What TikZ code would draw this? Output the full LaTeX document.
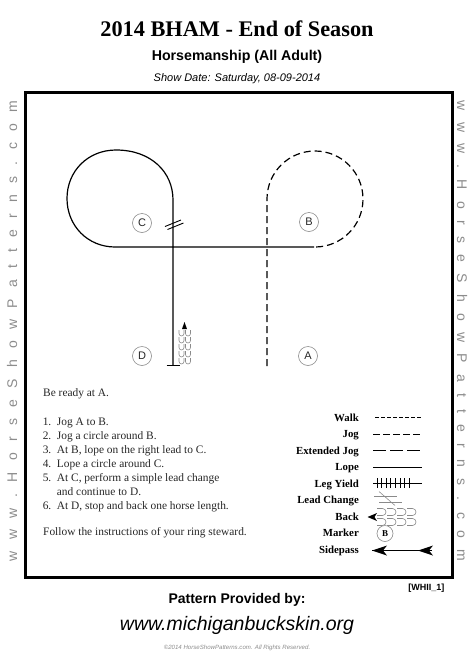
\documentclass[tikz,border=0pt]{standalone}
\usepackage{fontspec}
\setmainfont{Liberation Serif}
\setsansfont{Liberation Sans}
\usetikzlibrary{arrows.meta}
\definecolor{sidegray}{HTML}{8C8C8C}
\definecolor{markgray}{HTML}{8A8A8A}
\begin{document}
\begin{tikzpicture}[x=1pt,y=-1pt,
  marker/.style={circle, draw=markgray, line width=0.6pt, minimum size=19pt, inner sep=0pt,
     font=\sffamily\fontsize{11}{11}\selectfont, text=black!85},
  lopeline/.style={line width=1.2pt},
  jogline/.style={line width=1.2pt, dash pattern=on 7pt off 4pt},
  instr/.style={anchor=base west, inner sep=0pt, font=\fontsize{11.4}{13}\selectfont, text=black!85},
  num/.style={anchor=base east, inner sep=0pt, font=\fontsize{11.4}{13}\selectfont, text=black!85},
  leglabel/.style={anchor=base east, inner sep=0pt, font=\bfseries\fontsize{10.8}{12}\selectfont},
  sidetext/.style={text=sidegray, inner sep=0pt, font=\sffamily\fontsize{14}{14}\selectfont\addfontfeature{LetterSpace=81}},
  ushape/.style={draw=markgray, line width=0.6pt}
]
\useasboundingbox (0,0) rectangle (474,670);

% titles
\node[font=\bfseries\fontsize{22.3}{24}\selectfont] (title) at (237,29) {2014 BHAM - End of Season};
\node[font=\sffamily\bfseries\fontsize{14.2}{16}\selectfont] (sub) at (237,57) {Horsemanship (All Adult)};
\node[font=\sffamily\itshape\fontsize{11}{13}\selectfont] (date) at (237,79) {Show Date: Saturday, 08-09-2014};

% arena box
\draw[line width=3pt] (25,92.5) rectangle (452,577);

% side texts
\node[sidetext, rotate=90] (sideL) at (12,331) {www.HorseShowPatterns.com};
\node[sidetext, rotate=-90] (sideR) at (462,331) {www.HorseShowPatterns.com};

% markers
\node[marker] (C) at (142,223) {C};
\node[marker] (B) at (309,222) {B};
\node[marker] (D) at (142,356) {D};
\node[marker] (A) at (308,356) {A};

% lope path
\coordinate (hEnd) at (314,247);
\coordinate (lopeEnd) at (173,365);
\draw[lopeline] (hEnd) -- (115,247)
   .. controls (88,247) and (67,226) .. (67,198.5)
   .. controls (67,171) and (88,150) .. (116,150)
   .. controls (151,150) and (173,172) .. (173,200) -- (lopeEnd);
\coordinate (footL) at (166.5,365.5);
\coordinate (footR) at (180,365.5);
\draw[lopeline] (footL) -- (footR);

% jog path
\coordinate (jogStart) at (267,366);
\draw[jogline] (jogStart) -- (267,199) arc[start angle=180, end angle=450, radius=48];

% lead change marks
\coordinate (lc1a) at (165,226.5); \coordinate (lc1b) at (181,220);
\coordinate (lc2a) at (167.5,229.5); \coordinate (lc2b) at (183.5,223);
\draw[line width=0.9pt] (lc1a) -- (lc1b);
\draw[line width=0.9pt] (lc2a) -- (lc2b);

% back symbol near D
\fill (184.5,322) -- (187,329) -- (182,329) -- cycle;
\foreach \yy in {333,340,347,354,361}{
  \foreach \xx in {181.5,188}{
    \draw[ushape] (\xx-2.5,\yy-3) -- (\xx-2.5,\yy+0.5) arc[start angle=180, end angle=0, radius=2.5] -- (\xx+2.5,\yy-3);
  }
}

% instructions
\node[instr] (ready) at (43,396.5) {Be ready at A.};
\node[num] (n1) at (51.5,425) {1.};
\node[instr] (t1) at (56.7,425) {Jog A to B.};
\node[num] (n2) at (51.5,439) {2.};
\node[instr] (t2) at (56.7,439) {Jog a circle around B.};
\node[num] (n3) at (51.5,453) {3.};
\node[instr] (t3) at (56.7,453) {At B, lope on the right lead to C.};
\node[num] (n4) at (51.5,467) {4.};
\node[instr] (t4) at (56.7,467) {Lope a circle around C.};
\node[num] (n5) at (51.5,481) {5.};
\node[instr] (t5) at (56.7,481) {At C, perform a simple lead change};
\node[instr] (t5b) at (56.7,495) {and continue to D.};
\node[num] (n6) at (51.5,509) {6.};
\node[instr] (t6) at (56.7,509) {At D, stop and back one horse length.};
\node[instr] (follow) at (43,535.5) {Follow the instructions of your ring steward.};

% legend labels
\node[leglabel] (lw) at (359,421) {Walk};
\node[leglabel] (lj) at (359,437.5) {Jog};
\node[leglabel] (lej) at (359,454) {Extended Jog};
\node[leglabel] (ll) at (359,470.5) {Lope};
\node[leglabel] (lly) at (359,487) {Leg Yield};
\node[leglabel] (llc) at (359,503.5) {Lead Change};
\node[leglabel] (lb) at (359,520) {Back};
\node[leglabel] (lm) at (359,536.5) {Marker};
\node[leglabel] (ls) at (359,553.5) {Sidepass};

% legend symbols
\draw[line width=1pt, dash pattern=on 3.5pt off 2.5pt] (375,417.5) -- (422,417.5);
\draw[line width=1pt, dash pattern=on 7pt off 3pt] (373,434) -- (422,434);
\draw[line width=1pt, dash pattern=on 13pt off 4pt] (373,450.5) -- (422,450.5);
\draw[line width=1pt] (373,467) -- (422,467);
\draw[line width=1pt] (373,483) -- (422,483);
\foreach \xx in {377,381.6,386.2,390.8,395.4,400,404.6,409.2}{
  \draw[line width=0.8pt] (\xx,478) -- (\xx,488);
}
% lead change
\draw[draw=markgray, line width=0.6pt] (374,496) -- (397,496);
\draw[draw=markgray, line width=0.6pt] (379,502.5) -- (402,502.5);
\draw[draw=markgray, line width=0.6pt] (379,491.5) -- (395,505.5);
% back
\fill (367.5,517) -- (377,513) -- (374.5,517) -- (377,521) -- cycle;
\foreach \yy in {512,522}{
  \foreach \xx in {377,387,397,407}{
    \draw[ushape] (\xx,\yy-3.5) -- (\xx+5.5,\yy-3.5) arc[start angle=270, end angle=450, radius=3.5] -- (\xx,\yy+3.5);
  }
}
% marker
\node[circle, draw=markgray, line width=0.6pt, minimum size=16pt, inner sep=0pt,
      font=\bfseries\fontsize{9}{9}\selectfont] (mB) at (385,533.5) {B};
% sidepass
\coordinate (spL) at (372,550.5);
\coordinate (spR) at (432,550.5);
\draw[line width=0.6pt] (spL) -- (spR);
\fill (372,550.5) -- (387,545.5) -- (383,550.5) -- (387,555.5) -- cycle;
\fill (418,550.5) -- (433,545.5) -- (429,550.5) -- (433,555.5) -- cycle;

% footer
\node[anchor=east, font=\sffamily\bfseries\fontsize{9}{10}\selectfont] (code) at (448,588) {[WHII\_1]};
\node[font=\sffamily\bfseries\fontsize{14}{16}\selectfont] (prov) at (237,600) {Pattern Provided by:};
\node[font=\sffamily\itshape\fontsize{19.5}{22}\selectfont] (url) at (237,625) {www.michiganbuckskin.org};
\node[font=\sffamily\itshape\fontsize{6.1}{7}\selectfont, text=black!45] (copy) at (237,647.5) {©2014 HorseShowPatterns.com. All Rights Reserved.};
\end{tikzpicture}
\end{document}
